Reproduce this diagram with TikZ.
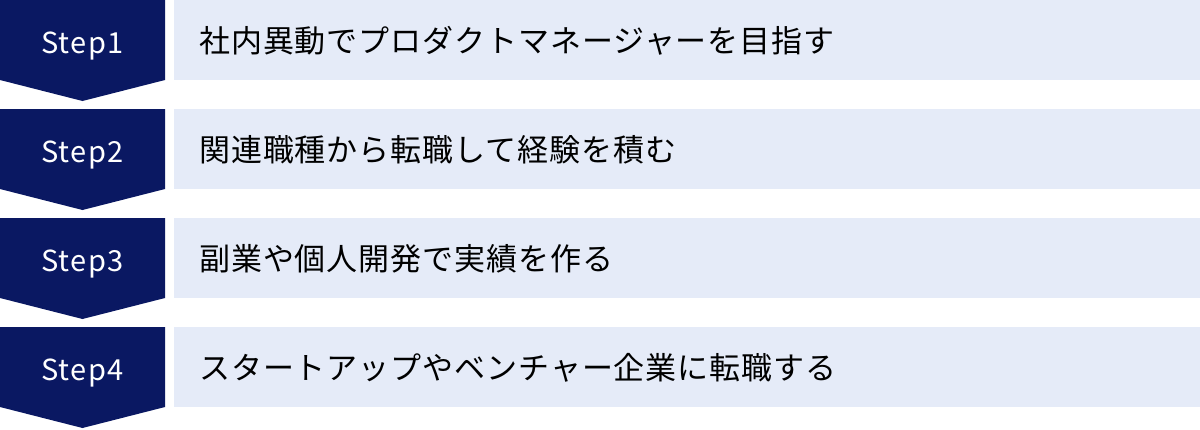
\documentclass[tikz,border=0pt]{standalone}
\usepackage{fontspec}
\setmainfont{Noto Sans CJK JP}
\newfontfamily\jpfont[LetterSpace=3]{Noto Sans CJK JP}
\newfontfamily\stepfont[LetterSpace=5]{Noto Sans CJK JP}
\definecolor{navy}{HTML}{0A1862}
\definecolor{pale}{HTML}{E5EBF8}
\tikzset{
  stepshape/.style={fill=navy, draw=none},
  barshape/.style={fill=pale, draw=none},
  steplabel/.style={text=white, font=\stepfont\fontsize{29}{29}\selectfont, anchor=base, inner sep=0pt},
  barlabel/.style={text=black, font=\jpfont\fontsize{31}{31}\selectfont, anchor=west, inner sep=0pt},
}
\begin{document}
\begin{tikzpicture}[x=1pt,y=-1pt]
\useasboundingbox (0,0) rectangle (1200,429);
\foreach \i/\txt in {0/社内異動でプロダクトマネージャーを目指す,1/関連職種から転職して経験を積む,2/副業や個人開発で実績を作る,3/スタートアップやベンチャー企業に転職する}{
  \pgfmathsetmacro{\t}{109*\i}
  \fill[stepshape] (0,\t) -- (165,\t) -- (165,\t+80) -- (82.5,\t+101) -- (0,\t+80) -- cycle;
  \fill[barshape] (174,\t) rectangle (1200,\t+80);
  \pgfmathtruncatemacro{\n}{\i+1}
  \node[steplabel] (s\n) at (82.5,\t+53.5) {Step\n};
  \node[barlabel] (b\n) at (199,\t+41) {\txt};
}
\end{tikzpicture}
\end{document}
